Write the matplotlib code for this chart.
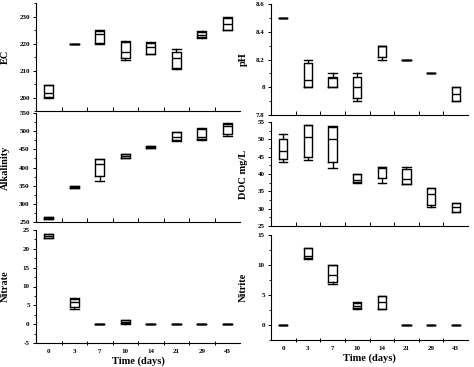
import matplotlib
matplotlib.use("Agg")
import matplotlib.pyplot as plt
from matplotlib.ticker import AutoMinorLocator, FormatStrFormatter

days = ["0", "3", "7", "10", "14", "21", "29", "43"]

# each row: (whisker low, q1, median, q3, whisker high) for one sampling day
ec = [(200, 200.2, 201.8, 204.8, 204.8), (220, 220, 220, 220, 220),
      (220, 220.2, 223.5, 224.8, 225), (214, 214.5, 216.8, 220.5, 221),
      (216, 216.2, 218.7, 220.3, 220.5), (210.5, 211, 214.6, 217, 217.9),
      (222, 222.3, 223.2, 224.5, 224.8), (225, 225.2, 227.2, 229.4, 230)]
ph = [(8.5, 8.5, 8.5, 8.5, 8.5), (8.0, 8.0, 8.05, 8.175, 8.2),
      (8.0, 8.0, 8.07, 8.076, 8.1), (7.9, 7.925, 8.0, 8.075, 8.1),
      (8.2, 8.22, 8.3, 8.3, 8.3), (8.2, 8.2, 8.2, 8.2, 8.2),
      (8.1, 8.1, 8.1, 8.1, 8.1), (7.9, 7.9, 7.95, 8.0, 8.0)]
alkalinity = [(259, 259, 262, 264, 264), (343, 343, 347, 350, 350),
              (364, 376, 410, 423, 423), (426, 426, 431, 436, 436),
              (454, 454, 457, 460, 460), (474, 475, 483, 497, 497),
              (477, 478, 485, 505, 508), (488, 492, 513, 521, 523)]
doc = [(43.6, 44.2, 46.7, 50.2, 51.4), (44.0, 44.9, 50.6, 54.1, 54.1),
       (41.8, 43.5, 50.0, 53.6, 53.8), (37.5, 37.8, 38.3, 40.0, 40.0),
       (37.5, 38.9, 41.8, 42.0, 42.0), (37.0, 37.2, 38.5, 41.3, 42.0),
       (30.6, 31.2, 34.3, 36.1, 36.1), (29.1, 29.1, 30.5, 31.7, 31.7)]
nitrate = [(22.8, 22.8, 23.4, 23.9, 23.9), (4.0, 4.5, 6.0, 6.8, 7.0),
           (0, 0, 0, 0, 0), (0.1, 0.2, 0.5, 1.0, 1.0),
           (0, 0, 0, 0, 0), (0, 0, 0, 0, 0),
           (0, 0, 0, 0, 0), (0, 0, 0, 0, 0)]
nitrite = [(0, 0, 0, 0, 0), (11.0, 11.1, 11.5, 12.8, 12.9),
           (6.9, 7.1, 8.4, 10.0, 10.0), (2.7, 2.9, 3.2, 3.6, 3.8),
           (2.6, 2.6, 3.8, 4.8, 4.8), (0, 0, 0, 0, 0),
           (0, 0, 0, 0, 0), (0, 0, 0, 0, 0)]

plt.rcParams['font.family'] = ['Liberation Serif', 'DejaVu Serif']
plt.rcParams['font.weight'] = 'bold'

W, H = 474, 367
fig = plt.figure(figsize=(W / 100, H / 100), dpi=100)


def make_ax(x0, x1, top, bottom):
    return fig.add_axes([x0 / W, 1 - bottom / H, (x1 - x0) / W, (bottom - top) / H])


panels = [
    # data, label, ylim, yticks, fmt, pixel box, bottom row?
    (ec, "EC", (195, 235), [200, 210, 220, 230], "%d", (36, 240, 3.3, 111), False),
    (alkalinity, "Alkalinity", (250, 550), range(250, 551, 50), "%d", (36, 240, 113, 222), False),
    (nitrate, "Nitrate", (-5, 25), range(-5, 26, 5), "%d", (36, 240, 230, 343), True),
    (ph, "pH", (7.8, 8.6), [7.8, 8.0, 8.2, 8.4, 8.6], "%g", (271, 468, 4, 115), False),
    (doc, "DOC mg/L", (25, 55), range(25, 56, 5), "%d", (271, 468, 122, 226), False),
    (nitrite, "Nitrite", (-2.5, 15), [0, 5, 10, 15], "%d", (271, 468, 235, 340), True),
]

for data, label, ylim, yticks, fmt, box, bottom in panels:
    ax = make_ax(*box)
    stats = []
    for lo, q1, med, q3, hi in data:
        stats.append(dict(whislo=lo, q1=q1, med=med, q3=q3, whishi=hi, fliers=[]))
    lw = 1.0
    ax.bxp(stats, positions=range(len(days)), widths=0.34, capwidths=0.34,
           manage_ticks=False, showfliers=False,
           boxprops=dict(color="black", linewidth=lw),
           whiskerprops=dict(color="black", linewidth=lw),
           capprops=dict(color="black", linewidth=lw),
           medianprops=dict(color="black", linewidth=lw))
    ax.set_xlim(-0.5, len(days) - 0.5)
    ax.set_ylim(*ylim)
    ax.set_yticks(list(yticks))
    ax.yaxis.set_major_formatter(FormatStrFormatter(fmt))
    ax.yaxis.set_minor_locator(AutoMinorLocator(2))
    ax.spines["top"].set_visible(False)
    ax.spines["right"].set_visible(False)
    for s in ("left", "bottom"):
        ax.spines[s].set_linewidth(0.8)
    ax.tick_params(axis="y", which="major", direction="out", length=2.5, width=0.7,
                   labelsize=5, pad=2)
    ax.tick_params(axis="y", which="minor", direction="out", length=1.5, width=0.6)
    ax.set_xticks(range(len(days)))
    ax.set_xticks([i + 0.5 for i in range(len(days) - 1)], minor=True)
    ax.tick_params(axis="x", which="major", length=0, labelsize=5, pad=4)
    ax.tick_params(axis="x", which="minor", direction="inout" if bottom else "in",
                   length=3, width=0.7)
    if bottom:
        ax.set_xticklabels(days)
        ax.set_xlabel("Time (days)", fontsize=7.5, fontweight="bold", labelpad=2)
    else:
        ax.set_xticklabels([])
    ax.set_ylabel(label, fontsize=7.5, fontweight="bold")
    lx = (10 - box[0]) / (box[1] - box[0]) if box[0] < 100 else (248 - box[0]) / (box[1] - box[0])
    ax.yaxis.set_label_coords(lx, 0.5)

fig.savefig("out.png", dpi=100)
